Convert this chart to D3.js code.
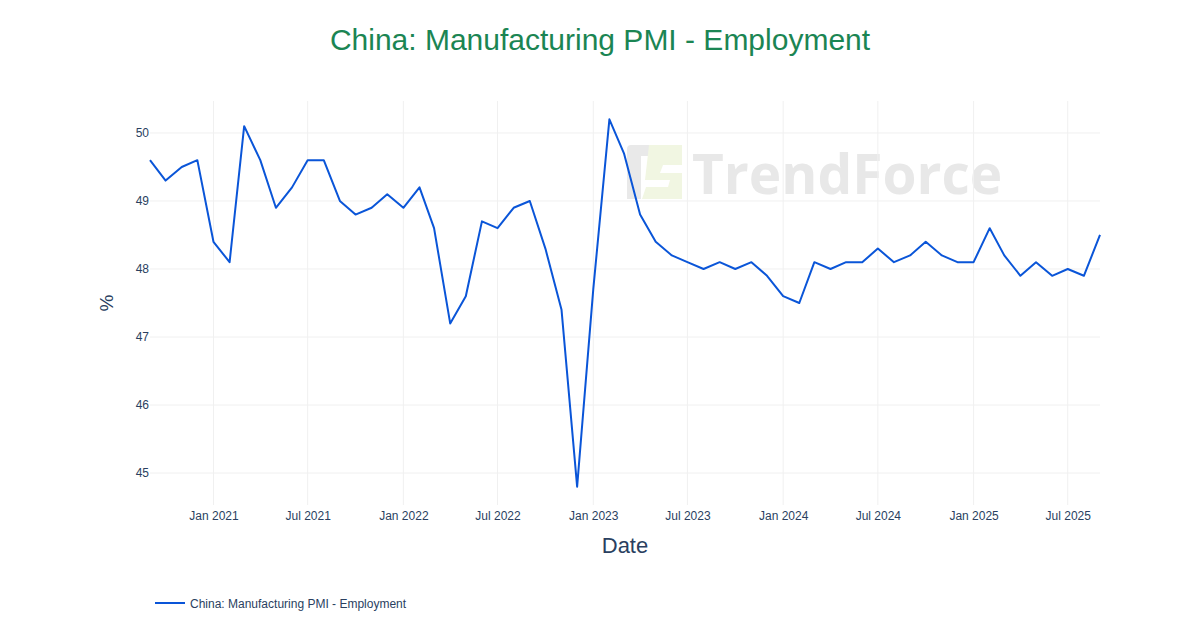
<!DOCTYPE html>
<html>
<head>
<meta charset="utf-8">
<script src="https://cdn.jsdelivr.net/npm/d3@7"></script>
<style>
  body { margin: 0; background: #fff; }
  text { font-family: "Liberation Sans", Arial, sans-serif; }
</style>
</head>
<body>
<div class="chart"></div>
<script>
// monthly readings, Sep 2020 .. Sep 2025
const startMonth = '2020-09'
const pmiValues = [
  49.6, 49.3, 49.5, 49.6,                                                  // 2020 Sep-Dec
  48.4, 48.1, 50.1, 49.6, 48.9, 49.2, 49.6, 49.6, 49.0, 48.8, 48.9, 49.1,  // 2021
  48.9, 49.2, 48.6, 47.2, 47.6, 48.7, 48.6, 48.9, 49.0, 48.3, 47.4, 44.8,  // 2022
  47.7, 50.2, 49.7, 48.8, 48.4, 48.2, 48.1, 48.0, 48.1, 48.0, 48.1, 47.9,  // 2023
  47.6, 47.5, 48.1, 48.0, 48.1, 48.1, 48.3, 48.1, 48.2, 48.4, 48.2, 48.1,  // 2024
  48.1, 48.6, 48.2, 47.9, 48.1, 47.9, 48.0, 47.9, 48.5                     // 2025 Jan-Sep
]
const yTicks = [45, 46, 47, 48, 49, 50]
const xTickLabels = ['Jan 2021', 'Jul 2021', 'Jan 2022', 'Jul 2022', 'Jan 2023',
                     'Jul 2023', 'Jan 2024', 'Jul 2024', 'Jan 2025', 'Jul 2025']
const seriesName = 'China: Manufacturing PMI - Employment'

const parseMonth = d3.timeParse('%Y-%m')
const parseLabel = d3.timeParse('%b %Y')
const start = parseMonth(startMonth)
const data = pmiValues.map((v, i) => ({date: d3.timeMonth.offset(start, i), value: v}))

const outerWidth = 1200
const outerHeight = 630
const margin = {top: 101, bottom: 125, left: 150, right: 100}
const width = outerWidth - margin.left - margin.right
const height = outerHeight - margin.top - margin.bottom
const textColor = '#2a3f5f'

const root = d3.select('.chart')
  .append('svg')
  .attr('width', outerWidth)
  .attr('height', outerHeight)

const svg = root.append('g')
  .attr('transform', 'translate(' + margin.left + ',' + margin.top + ')')

const xScale = d3.scaleTime()
  .domain(d3.extent(data, d => d.date))
  .range([0, width])

const yScale = d3.scaleLinear()
  .domain([44.53, 50.47])
  .range([height, 0])

// watermark behind everything (logo + name)
const wm = svg.append('g').attr('transform', 'translate(477,44)')
wm.append('path')
  .attr('d', 'M4,0 L34,0 L31,11 L14,11 L14,54 L0,54 L0,4 Q0,0 4,0 Z')
  .attr('fill', '#e9e9e9')
wm.append('path')
  .attr('d', 'M22,0 L55,0 L55,20 L36,20 L33,28 L55,28 L55,54 L15,54 L19,42 L41,42 L43,35 L18,35 Z')
  .attr('fill', '#f1f6e2')
wm.append('text')
  .attr('x', 65)
  .attr('y', 49)
  .attr('font-size', 55)
  .attr('font-weight', 'bold')
  .attr('fill', '#e8e8e8')
  .style('font-family', '"Open Sans", "DejaVu Sans", sans-serif')
  .text('TrendForce')

// grid
svg.append('g')
  .selectAll('line')
  .data(yTicks)
  .enter()
  .append('line')
  .attr('x1', 0)
  .attr('x2', width)
  .attr('y1', d => yScale(d))
  .attr('y2', d => yScale(d))
  .attr('stroke', '#f0f0f0')
  .attr('stroke-width', 1)

svg.append('g')
  .selectAll('line')
  .data(xTickLabels)
  .enter()
  .append('line')
  .attr('x1', d => xScale(parseLabel(d)))
  .attr('x2', d => xScale(parseLabel(d)))
  .attr('y1', 0)
  .attr('y2', height)
  .attr('stroke', '#f0f0f0')
  .attr('stroke-width', 1)

const xAxis = d3.axisBottom(xScale)
  .tickValues(xTickLabels.map(parseLabel))
  .tickFormat(d3.timeFormat('%b %Y'))
  .tickSize(0)
  .tickPadding(6)

const yAxis = d3.axisLeft(yScale)
  .tickValues(yTicks)
  .tickFormat(d3.format('d'))
  .tickSize(0)
  .tickPadding(1)

svg.append('g')
  .attr('transform', 'translate(0,' + height + ')')
  .call(xAxis)
  .call(g => g.select('.domain').remove())
  .selectAll('text')
  .attr('font-size', 12)
  .attr('fill', textColor)
  .style('font-family', '"Liberation Sans", Arial, sans-serif')

svg.append('g')
  .call(yAxis)
  .call(g => g.select('.domain').remove())
  .selectAll('text')
  .attr('font-size', 12)
  .attr('fill', textColor)
  .style('font-family', '"Liberation Sans", Arial, sans-serif')

// the line
const line = d3.line()
  .x(d => xScale(d.date))
  .y(d => yScale(d.value))

svg.append('path')
  .datum(data)
  .attr('fill', 'none')
  .attr('stroke', '#0a55d8')
  .attr('stroke-width', 2)
  .attr('stroke-linejoin', 'round')
  .attr('d', line)

// titles
root.append('text')
  .attr('x', outerWidth / 2)
  .attr('y', 50)
  .attr('text-anchor', 'middle')
  .attr('font-size', 30)
  .attr('fill', '#1b8553')
  .text(seriesName)

root.append('text')
  .attr('x', margin.left + width / 2)
  .attr('y', 553)
  .attr('text-anchor', 'middle')
  .attr('font-size', 22)
  .attr('fill', textColor)
  .text('Date')

root.append('text')
  .attr('transform', 'translate(113,' + (margin.top + height / 2) + ') rotate(-90)')
  .attr('text-anchor', 'middle')
  .attr('font-size', 19)
  .attr('fill', textColor)
  .text('%')

// legend
const legend = root.append('g').attr('transform', 'translate(155,603)')
legend.append('line')
  .attr('x1', 0)
  .attr('x2', 30)
  .attr('stroke', '#0a55d8')
  .attr('stroke-width', 2)
legend.append('text')
  .attr('x', 35)
  .attr('y', 4.5)
  .attr('font-size', 12)
  .attr('fill', textColor)
  .text(seriesName)
</script>
</body>
</html>
